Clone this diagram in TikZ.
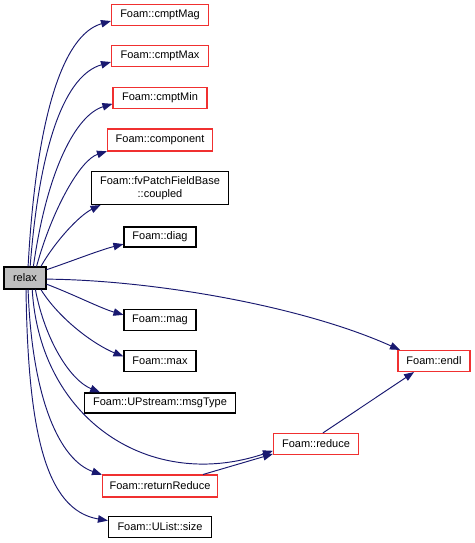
\documentclass[tikz,border=0pt]{standalone}
\usepackage{fontspec}
\setmainfont{Liberation Sans}
\usetikzlibrary{arrows.meta}
\definecolor{edgec}{HTML}{191970}
\definecolor{relaxfill}{HTML}{BFBFBF}
\definecolor{boxred}{HTML}{F03030}
\begin{document}
\begin{tikzpicture}[x=1pt,y=-1pt,
  fn/.style={draw, line width=1.1pt, inner sep=0pt, font=\fontsize{11}{12.5}\selectfont, align=center},
  redfn/.style={fn, draw=boxred},
  blkfn/.style={fn, draw=black},
  edge/.style={draw=edgec, line width=0.95pt, -{Triangle[length=10pt,width=7.5pt]}, fill=none}]
\useasboundingbox (0,0) rectangle (474,543);
\node[fn, fill=relaxfill, minimum width=42pt, minimum height=22pt] (relax) at (25,278) {relax};
\node[redfn, minimum width=97pt, minimum height=21pt] (cmag) at (160,15) {Foam::cmptMag};
\node[redfn, minimum width=97pt, minimum height=21pt] (cmax) at (160,56) {Foam::cmptMax};
\node[redfn, minimum width=94pt, minimum height=21pt] (cmin) at (160,98) {Foam::cmptMin};
\node[redfn, minimum width=105pt, minimum height=22pt] (comp) at (160,140) {Foam::component};
\node[blkfn, minimum width=137pt, minimum height=33pt] (fvp) at (160,188) {Foam::fvPatchFieldBase\\::coupled};
\node[blkfn, minimum width=72pt, minimum height=20pt] (diag) at (160,237) {Foam::diag};
\node[blkfn, minimum width=72pt, minimum height=21pt] (mag) at (160,320) {Foam::mag};
\node[blkfn, minimum width=72pt, minimum height=21pt] (max) at (160,361) {Foam::max};
\node[blkfn, minimum width=151pt, minimum height=20pt] (msg) at (160,403) {Foam::UPstream::msgType};
\node[redfn, minimum width=115pt, minimum height=22pt] (rred) at (160,486) {Foam::returnReduce};
\node[blkfn, minimum width=103pt, minimum height=21pt] (size) at (160,527) {Foam::UList::size};
\node[redfn, minimum width=72pt, minimum height=21pt] (endl) at (434,361) {Foam::endl};
\node[redfn, minimum width=85pt, minimum height=21pt] (red) at (316,444) {Foam::reduce};

\draw[edge] (relax.75) .. controls (36,120) and (62,35) .. (cmag.187);
\draw[edge] (relax.66) .. controls (40,140) and (66,75) .. (cmax.187);
\draw[edge] (relax.54) .. controls (47,170) and (76,115) .. (cmin.187);
\draw[edge] (relax.45) .. controls (52,210) and (80,160) .. (comp.192);
\draw[edge] (relax.36) .. controls (56,240) and (80,215) .. (fvp.196);
\draw[edge] (relax.21) .. controls (75,260) and (100,250) .. (diag.191);
\draw[edge] (relax.-3) .. controls (150,280) and (300,305) .. (endl.162);
\draw[edge] (relax.-16) .. controls (75,295) and (100,308) .. (mag.172);
\draw[edge] (relax.-36) .. controls (60,320) and (95,345) .. (max.173);
\draw[edge] (relax.-48) .. controls (45,340) and (70,380) .. (msg.170);
\draw[edge] (relax.-58) .. controls (40,420) and (150,492) .. (red.189);
\draw[edge] (relax.-75) .. controls (32,400) and (60,460) .. (rred.169);
\draw[edge] (relax.-85) .. controls (28,430) and (45,510) .. (size.173);
\draw[edge] (red.58) -- (endl.209);
\draw[edge] (rred.15) -- (red.193);
\end{tikzpicture}
\end{document}
